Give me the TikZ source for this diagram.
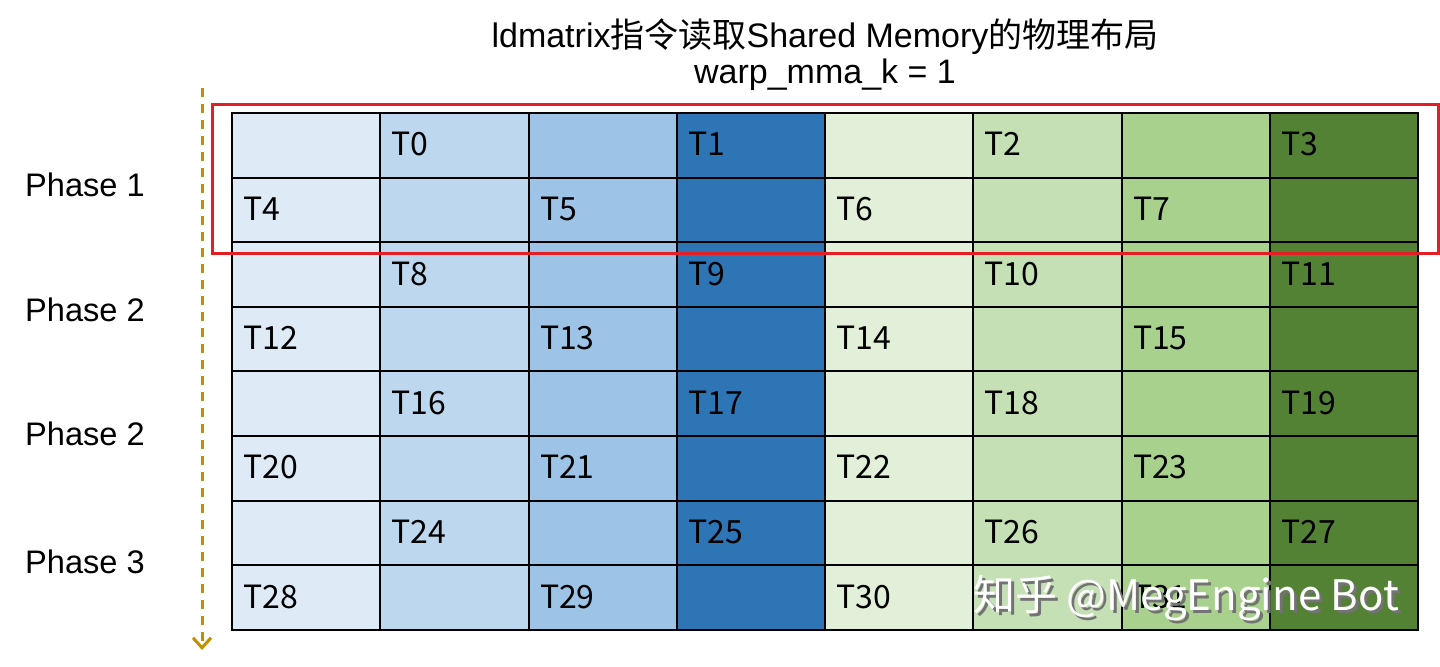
\documentclass[tikz,border=0pt]{standalone}
\usepackage{fontspec}
\setmainfont{Liberation Sans}
\newfontfamily\cjk{Noto Sans CJK SC}
\usepackage{tikz}
\usetikzlibrary{matrix,arrows.meta}
\definecolor{blueA}{HTML}{DEEBF7}
\definecolor{blueB}{HTML}{BDD7EE}
\definecolor{blueC}{HTML}{9DC3E6}
\definecolor{blueD}{HTML}{2E75B6}
\definecolor{greenA}{HTML}{E2F0D9}
\definecolor{greenB}{HTML}{C5E0B4}
\definecolor{greenC}{HTML}{A9D18E}
\definecolor{greenD}{HTML}{548235}
\definecolor{phasegold}{HTML}{BF9000}
\definecolor{frame}{HTML}{E31E24}
\tikzset{mycolumn/.style = {nodes={fill=#1}}}
\tikzset{phasetext/.style = {font=\fontsize{16.3}{18}\selectfont}}
\NewDocumentCommand{\phaselabel}{m m m}{%
\node[phasetext] (#1) at (85,#2) {#3};
}

\begin{document}
\begin{tikzpicture}[x=0.5pt,y=-0.5pt,ampersand replacement=\&]
\useasboundingbox (0,0) rectangle (1440,666);

\node[font=\fontsize{17}{19}\selectfont] (title) at (825,37) {ldmatrix{\cjk 指令读取}Shared Memory{\cjk 的物理布局}};
\node[font=\fontsize{17}{19}\selectfont] (sub) at (825,75) {warp\_mma\_k = 1};

\matrix(m)[matrix of nodes,nodes in empty cells,anchor=north west,inner sep=0pt,outer sep=0pt,
 column sep=-1pt,row sep=-1pt,
 nodes={draw,line width=1pt,anchor=center,text width=62.625pt,inner xsep=5.75pt,inner ysep=0pt,outer sep=0pt,
        text height=11.5pt,text depth=1pt,minimum height=32.31pt,align=left,font=\cjk\fontsize{16}{18}\selectfont},
 column 1/.style={mycolumn=blueA},column 2/.style={mycolumn=blueB},
 column 3/.style={mycolumn=blueC},column 4/.style={mycolumn=blueD},
 column 5/.style={mycolumn=greenA},column 6/.style={mycolumn=greenB},
 column 7/.style={mycolumn=greenC},column 8/.style={mycolumn=greenD}] at (231,112)
{
     \& T0  \&     \& T1  \&     \& T2  \&     \& T3  \\
 T4  \&     \& T5  \&     \& T6  \&     \& T7  \&     \\
     \& T8  \&     \& T9  \&     \& T10 \&     \& T11 \\
 T12 \&     \& T13 \&     \& T14 \&     \& T15 \&     \\
     \& T16 \&     \& T17 \&     \& T18 \&     \& T19 \\
 T20 \&     \& T21 \&     \& T22 \&     \& T23 \&     \\
     \& T24 \&     \& T25 \&     \& T26 \&     \& T27 \\
 T28 \&     \& T29 \&     \& T30 \&     \& T31 \&     \\
};

% red box round the first phase
\coordinate (frameA) at (212,104);
\coordinate (frameB) at (1438,253);
\draw[frame,line width=1.5pt] (frameA) rectangle (frameB);

% phase arrow
\coordinate (arrowtop) at (202,88);
\coordinate (arrowend) at (202,650);
\draw[phasegold,line width=1.5pt,dash pattern=on 4.5pt off 3.5pt,
      -{Straight Barb[length=5pt,width=9pt]}] (arrowtop) -- (arrowend);

\phaselabel{phA}{185}{Phase 1}
\phaselabel{phB}{310}{Phase 2}
\phaselabel{phC}{434}{Phase 2}
\phaselabel{phD}{562}{Phase 3}

% watermark
\node[text=black!55,font=\cjk\fontsize{21}{23}\selectfont] (wmshadow) at (1189,601) {知乎 @MegEngine Bot};
\node[text=white,font=\cjk\fontsize{21}{23}\selectfont] (wm) at (1186,598) {知乎 @MegEngine Bot};
\end{tikzpicture}
\end{document}
